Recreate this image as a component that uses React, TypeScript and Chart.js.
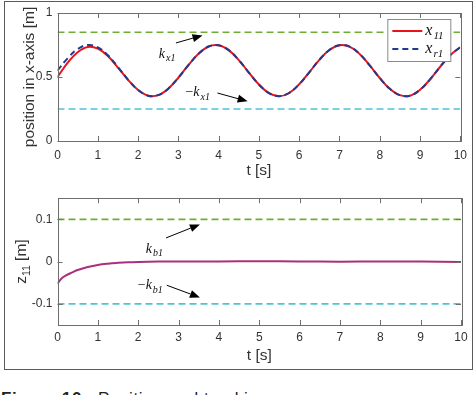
import React, { useEffect, useRef } from "react";
import { Chart, registerables } from "chart.js";
Chart.register(...registerables);

// ---- data ----
const T = [0, 0.25, 0.5, 0.75, 1, 1.25, 1.5, 1.75, 2, 2.25, 2.5, 2.75, 3, 3.25, 3.5, 3.75, 4, 4.25, 4.5, 4.75, 5, 5.25, 5.5, 5.75, 6, 6.25, 6.5, 6.75, 7, 7.25, 7.5, 7.75, 8, 8.25, 8.5, 8.75, 9, 9.25, 9.5, 9.75, 10];
const XR1 = [0.55, 0.646, 0.718, 0.75, 0.732, 0.67, 0.578, 0.48, 0.399, 0.354, 0.358, 0.409, 0.494, 0.593, 0.681, 0.738, 0.748, 0.71, 0.632, 0.535, 0.441, 0.374, 0.35, 0.375, 0.443, 0.537, 0.634, 0.711, 0.748, 0.737, 0.68, 0.591, 0.492, 0.408, 0.358, 0.354, 0.4, 0.482, 0.58, 0.671, 0.733];
const X11 = [0.5, 0.61, 0.694, 0.735, 0.722, 0.664, 0.574, 0.478, 0.398, 0.354, 0.358, 0.409, 0.494, 0.593, 0.681, 0.738, 0.748, 0.71, 0.632, 0.535, 0.441, 0.374, 0.35, 0.375, 0.443, 0.537, 0.634, 0.711, 0.748, 0.737, 0.68, 0.591, 0.492, 0.408, 0.358, 0.354, 0.4, 0.482, 0.58, 0.671, 0.733];
const ZT = [0, 0.1, 0.2, 0.38, 0.5, 0.75, 1, 1.25, 1.5, 1.75, 2, 2.5, 3, 4, 5, 6, 7, 8, 9, 10];
const Z11 = [-0.052, -0.04, -0.033, -0.025, -0.02, -0.013, -0.008, -0.005, -0.003, -0.0015, -0.0007, 0, 0, 0.0004, 0.0008, 0.0004, -0.0003, 0.0004, 0, -0.001];
const X_TICKS = [0, 1, 2, 3, 4, 5, 6, 7, 8, 9, 10];
const TOP_Y_TICKS = [0, 0.5, 1];
const TOP_Y_LABELS = ["0", "0.5", "1"];
const BOT_Y_TICKS = [-0.1, 0, 0.1];
const BOT_Y_LABELS = ["-0.1", "0", "0.1"];
const KX1 = 0.85;
const NEG_KX1 = 0.25;
const KB1 = 0.1;
const NEG_KB1 = -0.1;

const SANS = '"Liberation Sans", Arial, sans-serif';
const SERIF = '"Liberation Serif", "Times New Roman", serif';
const AXIS = "#6e6e6e";
const TXT = "#333333";

const pts = (xs: number[], ys: number[]) => xs.map((x, i) => ({ x, y: ys[i] }));
const hline = (v: number) => [{ x: 0, y: v }, { x: 10, y: v }];

function drawMath(ctx: CanvasRenderingContext2D, x: number, y: number, pre: string, main: string, sub: string, size: number, align: string) {
  ctx.save();
  ctx.textBaseline = "alphabetic";
  ctx.textAlign = "left";
  const fMain = `italic ${size}px ${SERIF}`;
  const fPre = `${size}px ${SERIF}`;
  const fSub = `italic ${Math.round(size * 0.68)}px ${SERIF}`;
  ctx.font = fPre; const wp = ctx.measureText(pre).width;
  ctx.font = fMain; const wm = ctx.measureText(main).width;
  ctx.font = fSub; const ws = ctx.measureText(sub).width;
  const total = wp + wm + ws + 1;
  let sx = align === "center" ? x - total / 2 : x;
  ctx.fillStyle = "#111";
  ctx.font = fPre; ctx.fillText(pre, sx, y); sx += wp;
  ctx.font = fMain; ctx.fillText(main, sx, y); sx += wm + 1;
  ctx.font = fSub; ctx.fillText(sub, sx, y + size * 0.25);
  ctx.restore();
}

function arrow(ctx: CanvasRenderingContext2D, x1: number, y1: number, x2: number, y2: number) {
  const a = Math.atan2(y2 - y1, x2 - x1);
  const L = 10, W = 4;
  ctx.save();
  ctx.strokeStyle = "#000"; ctx.fillStyle = "#000"; ctx.lineWidth = 1;
  ctx.beginPath(); ctx.moveTo(x1, y1); ctx.lineTo(x2 - L * Math.cos(a), y2 - L * Math.sin(a)); ctx.stroke();
  ctx.beginPath();
  ctx.moveTo(x2, y2);
  ctx.lineTo(x2 - L * Math.cos(a) + W * Math.sin(a), y2 - L * Math.sin(a) - W * Math.cos(a));
  ctx.lineTo(x2 - L * Math.cos(a) - W * Math.sin(a), y2 - L * Math.sin(a) + W * Math.cos(a));
  ctx.closePath(); ctx.fill();
  ctx.restore();
}

type Ann = { pre: string; main: string; sub: string; tx: number; ty: number; x1: number; y1: number; x2: number; y2: number };

function makeDecor(opts: { yTicks: number[]; yTitle: (ctx: CanvasRenderingContext2D, cx: number, cy: number) => void; yTitleX: number; xTitleY: number; anns: Ann[]; legend: boolean }) {
  return {
    id: "decor",
    afterDraw(chart: any) {
      const { ctx, chartArea: ca, scales } = chart;
      const xs = scales.x, ys = scales.y;
      ctx.save();
      ctx.strokeStyle = AXIS; ctx.lineWidth = 1;
      ctx.strokeRect(Math.round(ca.left) + 0.5, Math.round(ca.top) + 0.5, Math.round(ca.right - ca.left), Math.round(ca.bottom - ca.top));
      ctx.beginPath();
      X_TICKS.forEach((v) => {
        const p = Math.round(xs.getPixelForValue(v)) + 0.5;
        ctx.moveTo(p, ca.bottom); ctx.lineTo(p, ca.bottom - 5);
        ctx.moveTo(p, ca.top); ctx.lineTo(p, ca.top + 5);
      });
      opts.yTicks.forEach((v) => {
        const p = Math.round(ys.getPixelForValue(v)) + 0.5;
        ctx.moveTo(ca.left, p); ctx.lineTo(ca.left + 5, p);
        ctx.moveTo(ca.right, p); ctx.lineTo(ca.right - 5, p);
      });
      ctx.stroke();
      // x title
      ctx.fillStyle = TXT; ctx.font = `15.5px ${SANS}`; ctx.textAlign = "center"; ctx.textBaseline = "middle";
      ctx.fillText("t [s]", (ca.left + ca.right) / 2, opts.xTitleY);
      // y title
      opts.yTitle(ctx, opts.yTitleX, (ca.top + ca.bottom) / 2);
      // annotations
      opts.anns.forEach((a) => {
        drawMath(ctx, xs.getPixelForValue(a.tx), ys.getPixelForValue(a.ty) + 5, a.pre, a.main, a.sub, 14, "center");
        arrow(ctx, xs.getPixelForValue(a.x1), ys.getPixelForValue(a.y1), xs.getPixelForValue(a.x2), ys.getPixelForValue(a.y2));
      });
      if (opts.legend) {
        const bx = ca.right - 73, by = ca.top + 6, bw = 63, bh = 42;
        ctx.fillStyle = "#fff"; ctx.fillRect(bx, by, bw, bh);
        ctx.strokeStyle = "#8a8a8a"; ctx.lineWidth = 1; ctx.strokeRect(bx + 0.5, by + 0.5, bw, bh);
        ctx.lineWidth = 2;
        ctx.strokeStyle = "#e8141c"; ctx.beginPath(); ctx.moveTo(bx + 5, by + 12); ctx.lineTo(bx + 35, by + 12); ctx.stroke();
        ctx.strokeStyle = "#1f3a8f"; ctx.setLineDash([6, 4]); ctx.beginPath(); ctx.moveTo(bx + 5, by + 30); ctx.lineTo(bx + 35, by + 30); ctx.stroke();
        ctx.setLineDash([]);
        drawMath(ctx, bx + 38, by + 16, "", "x", "11", 16, "left");
        drawMath(ctx, bx + 38, by + 34, "", "x", "r1", 16, "left");
      }
      ctx.restore();
    },
  };
}

function scalesFor(yMin: number, yMax: number, yTicks: number[], yLabels: string[], tickPadX: number) {
  return {
    x: {
      type: "linear", min: 0, max: 10,
      afterBuildTicks: (s: any) => { s.ticks = X_TICKS.map((v) => ({ value: v })); },
      afterFit: (s: any) => { s.height = 45; },
      ticks: { color: TXT, font: { size: 12, family: SANS }, padding: tickPadX, maxRotation: 0, autoSkip: false, callback: (v: any) => String(v) },
      grid: { display: false, drawTicks: false }, border: { display: false },
    },
    y: {
      type: "linear", min: yMin, max: yMax,
      afterBuildTicks: (s: any) => { s.ticks = yTicks.map((v) => ({ value: v })); },
      afterFit: (s: any) => { s.width = 57.5; },
      ticks: { color: TXT, font: { size: 12, family: SANS }, padding: 5, callback: (v: any) => { const i = yTicks.findIndex((t) => Math.abs(t - v) < 1e-9); return i >= 0 ? yLabels[i] : ""; } },
      grid: { display: false, drawTicks: false }, border: { display: false },
    },
  };
}

const dash = (data: any[], color: string) => ({ data, borderColor: color, borderWidth: 1.6, borderDash: [7, 4], pointRadius: 0, order: 3 });

function TopChart() {
  const ref = useRef<HTMLCanvasElement>(null);
  useEffect(() => {
    const anns: Ann[] = [
      { pre: "", main: "k", sub: "x1", tx: 2.72, ty: 0.69, x1: 2.94, y1: 0.766, x2: 3.6, y2: 0.825 },
      { pre: "\u2212", main: "k", sub: "x1", tx: 3.48, ty: 0.39, x1: 3.97, y1: 0.375, x2: 4.72, y2: 0.31 },
    ];
    const chart = new Chart(ref.current!, {
      type: "line",
      data: {
        datasets: [
          { data: pts(T, XR1), borderColor: "#1f3a8f", borderWidth: 2, borderDash: [6, 4], pointRadius: 0, tension: 0.4, order: 0 },
          { data: pts(T, X11), borderColor: "#e8141c", borderWidth: 2, pointRadius: 0, tension: 0.4, order: 1 },
          dash(hline(KX1), "#6fae35"),
          dash(hline(NEG_KX1), "#4dc3d3"),
        ] as any,
      },
      options: {
        responsive: false, animation: false, devicePixelRatio: 1,
        layout: { padding: { left: 0, right: 13, top: 13, bottom: 0 } },
        plugins: { legend: { display: false }, tooltip: { enabled: false } },
        scales: scalesFor(0, 1, TOP_Y_TICKS, TOP_Y_LABELS, 7) as any,
      },
      plugins: [makeDecor({
        yTicks: TOP_Y_TICKS, yTitleX: 30, xTitleY: 171, anns, legend: true,
        yTitle: (ctx, cx, cy) => {
          ctx.save(); ctx.translate(cx, cy); ctx.rotate(-Math.PI / 2);
          ctx.fillStyle = TXT; ctx.font = `15.5px ${SANS}`; ctx.textAlign = "center"; ctx.textBaseline = "middle";
          ctx.fillText("position in x-axis [m]", 0, 0); ctx.restore();
        },
      })],
    });
    return () => chart.destroy();
  }, []);
  return <canvas ref={ref} width={474} height={186} style={{ position: "absolute", left: 0, top: 0 }} />;
}

function BottomChart() {
  const ref = useRef<HTMLCanvasElement>(null);
  useEffect(() => {
    const anns: Ann[] = [
      { pre: "", main: "k", sub: "b1", tx: 2.4, ty: 0.033, x1: 2.69, y1: 0.056, x2: 3.53, y2: 0.088 },
      { pre: "\u2212", main: "k", sub: "b1", tx: 2.3, ty: -0.054, x1: 2.71, y1: -0.056, x2: 3.53, y2: -0.085 },
    ];
    const chart = new Chart(ref.current!, {
      type: "line",
      data: {
        datasets: [
          { data: pts(ZT, Z11), borderColor: "#a8307e", borderWidth: 2, pointRadius: 0, tension: 0.4, order: 0 },
          dash(hline(KB1), "#6fae35"),
          dash(hline(NEG_KB1), "#4dc3d3"),
        ] as any,
      },
      options: {
        responsive: false, animation: false, devicePixelRatio: 1,
        layout: { padding: { left: 0, right: 13, top: 11, bottom: 0 } },
        plugins: { legend: { display: false }, tooltip: { enabled: false } },
        scales: scalesFor(-0.15, 0.15, BOT_Y_TICKS, BOT_Y_LABELS, 5) as any,
      },
      plugins: [makeDecor({
        yTicks: BOT_Y_TICKS, yTitleX: 22, xTitleY: 170, anns: anns, legend: false,
        yTitle: (ctx, cx, cy) => {
          ctx.save(); ctx.translate(cx, cy); ctx.rotate(-Math.PI / 2);
          ctx.fillStyle = TXT; ctx.textBaseline = "middle"; ctx.textAlign = "left";
          ctx.font = `15.5px ${SANS}`; const w1 = ctx.measureText("z").width; const w3 = ctx.measureText(" [m]").width;
          ctx.font = `10.5px ${SANS}`; const w2 = ctx.measureText("11").width;
          let sx = -(w1 + w2 + w3) / 2;
          ctx.font = `15.5px ${SANS}`; ctx.fillText("z", sx, 0); sx += w1;
          ctx.font = `10.5px ${SANS}`; ctx.fillText("11", sx, 5); sx += w2;
          ctx.font = `15.5px ${SANS}`; ctx.fillText(" [m]", sx, 0);
          ctx.restore();
        },
      })],
    });
    return () => chart.destroy();
  }, []);
  return <canvas ref={ref} width={474} height={184} style={{ position: "absolute", left: 0, top: 186 }} />;
}

export default function App() {
  return (
    <div style={{ position: "absolute", left: 0, top: 0, width: 474, height: 395, overflow: "hidden", background: "#fff" }}>
      <div style={{ position: "absolute", left: 4, top: 1, width: 469, height: 369, border: "1.5px solid #5a5a5a", boxSizing: "border-box" }} />
      <TopChart />
      <BottomChart />
      <div style={{ position: "absolute", left: 1, top: 389, whiteSpace: "nowrap", fontFamily: SANS, fontSize: 17, lineHeight: "19px", color: "#222", letterSpacing: 0.6 }}>
        <b>Figure 10.</b>&nbsp;&nbsp;Position and tracking error
      </div>
    </div>
  );
}
